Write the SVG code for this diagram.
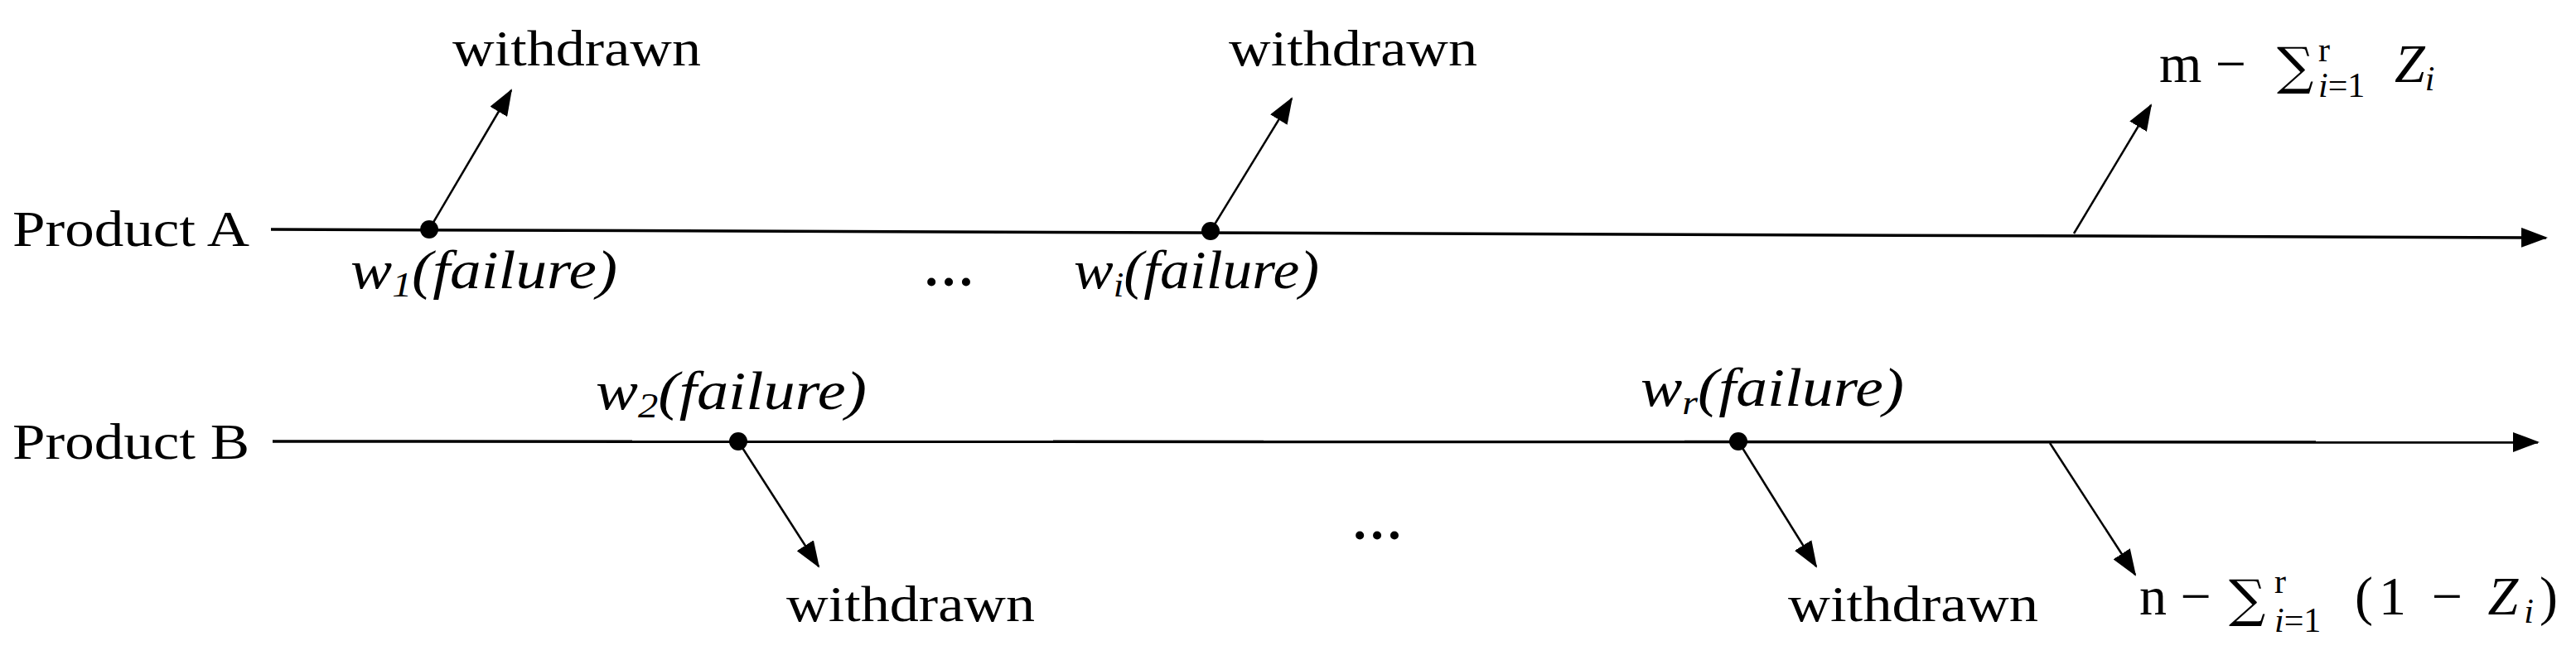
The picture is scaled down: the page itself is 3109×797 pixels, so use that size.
<svg xmlns="http://www.w3.org/2000/svg" width="3109" height="797" viewBox="0 0 3109 797">
<style>
.lbl{font-family:"Liberation Serif",serif;font-size:62px;fill:#000}
.m{font-family:"Liberation Serif",serif;font-style:italic;font-size:66px;fill:#000}
.mr{font-family:"Liberation Serif",serif;font-size:66px;fill:#000}
.s{font-size:42px}
.sg{font-family:"DejaVu Serif",serif;font-size:62px;fill:#000}
.ln{stroke:#000;stroke-width:3.5;fill:none}
.ar{stroke:#000;stroke-width:2.5;fill:none}
</style>
<defs>
<marker id="ah" markerUnits="userSpaceOnUse" markerWidth="34" markerHeight="24" refX="30" refY="12" orient="auto"><path d="M0,0 L32,12 L0,24 Z" fill="#000"/></marker>
</defs>
<rect width="3109" height="797" fill="#fff"/>
<g id="connectors">
<path class="ln" d="M327,277 L3073,287" marker-end="url(#ah)"/>
<path class="ln" d="M329,533 L3063,534" marker-end="url(#ah)"/>
<path class="ar" d="M518,277 L617,109" marker-end="url(#ah)"/>
<path class="ar" d="M1461,279 L1559,119" marker-end="url(#ah)"/>
<path class="ar" d="M2503,282 L2596,127" marker-end="url(#ah)"/>
<path class="ar" d="M891,533 L988,684" marker-end="url(#ah)"/>
<path class="ar" d="M2098,533 L2192,684" marker-end="url(#ah)"/>
<path class="ar" d="M2474,535 L2577,694" marker-end="url(#ah)"/>
</g>
<g id="productA"><text class="lbl" x="15" y="297" font-size="72" textLength="286" lengthAdjust="spacingAndGlyphs">Product A</text></g>
<g id="productB"><text class="lbl" x="15" y="554" font-size="72" textLength="286" lengthAdjust="spacingAndGlyphs">Product B</text></g>
<g id="w1"><circle cx="518" cy="277" r="11"/><text class="m" x="423" y="348" textLength="322" lengthAdjust="spacingAndGlyphs">w<tspan class="s" dy="10">1</tspan><tspan dy="-10">(failure)</tspan></text></g>
<g id="wi"><circle cx="1461" cy="279" r="11"/><text class="m" x="1296" y="348" textLength="296" lengthAdjust="spacingAndGlyphs">w<tspan class="s" dy="10">i</tspan><tspan dy="-10">(failure)</tspan></text></g>
<g id="w2"><circle cx="891" cy="533" r="11"/><text class="m" x="719" y="494" textLength="327" lengthAdjust="spacingAndGlyphs">w<tspan class="s" dy="10">2</tspan><tspan dy="-10">(failure)</tspan></text></g>
<g id="wr"><circle cx="2098" cy="533" r="11"/><text class="m" x="1980" y="490" textLength="318" lengthAdjust="spacingAndGlyphs">w<tspan class="s" dy="10">r</tspan><tspan dy="-10">(failure)</tspan></text></g>
<g id="withdrawn1"><text class="lbl" x="546" y="79" textLength="300" lengthAdjust="spacingAndGlyphs">withdrawn</text></g>
<g id="withdrawn2"><text class="lbl" x="1483" y="79" textLength="300" lengthAdjust="spacingAndGlyphs">withdrawn</text></g>
<g id="withdrawn3"><text class="lbl" x="949" y="750" textLength="300" lengthAdjust="spacingAndGlyphs">withdrawn</text></g>
<g id="withdrawn4"><text class="lbl" x="2158" y="750" textLength="302" lengthAdjust="spacingAndGlyphs">withdrawn</text></g>
<g id="dotsA"><text class="lbl" x="1114" y="345" font-weight="bold">…</text></g>
<g id="dotsB"><text class="lbl" x="1631" y="651" font-weight="bold">…</text></g>
<g id="remainA">
<text class="mr" x="2606" y="99">m −</text>
<text class="sg" x="2748" y="101">∑</text>
<text class="mr s" x="2798" y="74">r</text>
<text class="m s" x="2798" y="117">i<tspan font-style="normal">=1</tspan></text>
<text class="m" x="2890" y="99">Z<tspan class="s" dy="10">i</tspan></text>
</g>
<g id="remainB">
<text class="mr" x="2582" y="742">n −</text>
<text class="sg" x="2690" y="744">∑</text>
<text class="mr s" x="2745" y="716">r</text>
<text class="m s" x="2745" y="763">i<tspan font-style="normal">=1</tspan></text>
<text class="mr" x="2842" y="742" textLength="245" lengthAdjust="spacing">(1 − <tspan font-style="italic">Z</tspan><tspan class="s" font-style="italic" dy="10">i</tspan><tspan dy="-10">)</tspan></text>
</g>
</svg>
